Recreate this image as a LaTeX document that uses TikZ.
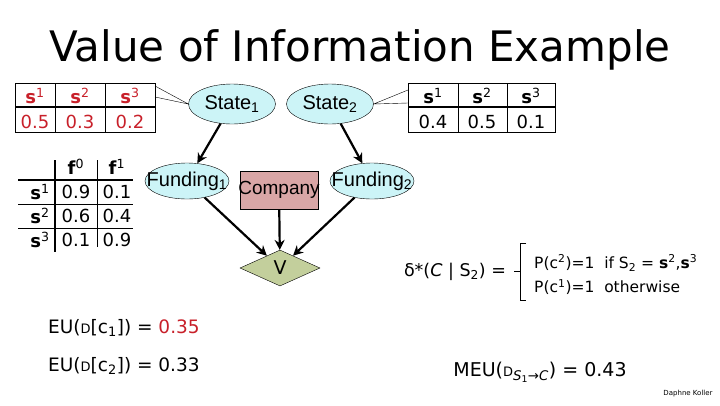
\documentclass[tikz,border=0pt]{standalone}
\usepackage{fontspec}
\setmainfont{DejaVu Sans}
\newfontfamily\nodefont{Liberation Sans}
\usetikzlibrary{shapes.geometric,arrows.meta}
\definecolor{cy}{HTML}{CCF4F7}
\definecolor{pk}{HTML}{D9A6A6}
\definecolor{gr}{HTML}{C3CF9C}
\definecolor{rd}{HTML}{C8202A}
\newcommand{\sub}[1]{\textsubscript{#1}}
\newcommand{\sups}[1]{\textsuperscript{#1}}
\newcommand{\smD}{{\fontsize{13}{15}\selectfont D}}
\newcommand{\zb}[1]{\makebox[0pt]{#1}}
\tikzset{
 ell/.style={ellipse,draw,fill=cy,minimum width=87pt,minimum height=40pt,inner sep=0pt,font=\nodefont\fontsize{20}{22}\selectfont},
 arr/.style={line width=2.2pt,-{Stealth[length=10pt,width=10pt]}},
 txt/.style={inner sep=0pt,font=\fontsize{18.5}{20}\selectfont},
 cell/.style={inner sep=0pt,font=\fontsize{18}{20}\selectfont}
}
\begin{document}
\begin{tikzpicture}[x=1pt,y=-1pt]
\useasboundingbox (0,0) rectangle (720,405);
\node[inner sep=0pt,font=\fontsize{42}{46}\selectfont] (title) at (360,50) {Value of Information Example};
% table 1
\draw (15,83) rectangle (155,132);
\draw[line width=2.5pt] (15,107) -- (155,107);
\draw (55,83)--(55,132) (105,83)--(105,132);
\foreach \x/\s in {35/1,80/2,130/3}{\node[cell,text=rd] at (\x,96) {\textbf{s}\sups{\s}};}
\foreach \x/\v in {35/0.5,80/0.3,130/0.2}{\node[cell,text=rd] at (\x,122) {\v};}
% table right
\draw (408,83) rectangle (555,132);
\draw[line width=2.5pt] (408,107) -- (555,107);
\draw (458,83)--(458,132) (507,83)--(507,132);
\foreach \x/\s in {433/1,482/2,531/3}{\node[cell] at (\x,96) {\textbf{s}\sups{\s}};}
\foreach \x/\v in {433/0.4,482/0.5,531/0.1}{\node[cell] at (\x,122) {\v};}
% nodes
\node[ell] (s1) at (232,104) {\zb{State\sub{1}}};
\node[ell] (s2) at (330,104) {\zb{State\sub{2}}};
\node[ell,minimum width=84pt,minimum height=36pt] (f1) at (187,181) {\zb{Funding\sub{1}}};
\node[ell,minimum width=84pt,minimum height=36pt] (f2) at (372,181) {\zb{Funding\sub{2}}};
\node[draw,fill=pk,minimum width=78pt,minimum height=38pt,inner sep=0pt,font=\nodefont\fontsize{19}{21}\selectfont] (c) at (279,190) {\zb{Company}};
\node[diamond,draw,fill=gr,aspect=2.2,minimum width=80pt,minimum height=36pt,inner sep=0pt,font=\fontsize{19}{21}\selectfont] (v) at (280,268) {V};
% callouts
\draw (155,86) -- (s1.west) -- (155,97);
\draw (408,90) -- (s2.east) -- (408,103);
\draw[arr] (s1) -- (f1);
\draw[arr] (s2) -- (f2);
\draw[arr] (f1) -- (v);
\draw[arr] (c) -- (v);
\draw[arr] (f2) -- (v);
% table 2
\draw[line width=2.5pt] (55,160) -- (55,252);
\draw[line width=2.5pt] (18,180) -- (133,180);
\draw (18,204)--(133,204) (18,228)--(133,228) (97,160)--(97,247);
\node[cell] at (76,167) {\textbf{f}\sups{0}};
\node[cell] at (117,167) {\textbf{f}\sups{1}};
\foreach \y/\s/\a/\b in {192/1/0.9/0.1,216/2/0.6/0.4,240/3/0.1/0.9}{
 \node[cell] at (40,\y) {\textbf{s}\sups{\s}};
 \node[cell] at (76,\y) {\a};
 \node[cell] at (117,\y) {\b};}
% delta
\node[txt,font=\fontsize{17.5}{19}\selectfont] (d) at (455,272) {δ*(\textit{C} | S\sub{2}) =};
\draw (526,243) -- (520,243) -- (520,300) -- (526,300) (520,271) -- (514,271);
\node[txt,font=\fontsize{15.5}{17}\selectfont,anchor=west] (p1) at (534,263) {P(c\sups{2})=1\ \ if S\sub{2} = \textbf{s}\sups{2},\textbf{s}\sups{3}};
\node[txt,font=\fontsize{15.5}{17}\selectfont,anchor=west] (p2) at (534,287) {P(c\sups{1})=1\ \ otherwise};
% EU
\node[txt,anchor=west] (eu1) at (48,328) {EU(\smD[c\sub{1}]) = \textcolor{rd}{0.35}};
\node[txt,anchor=west] (eu2) at (48,366) {EU(\smD[c\sub{2}]) = 0.33};
\node[txt,font=\fontsize{19}{21}\selectfont] (meu) at (540,372) {MEU(\smD\sub{\textit{S}\sub{1}→\textit{C}}) = 0.43};
\node[inner sep=0pt,font=\fontsize{7}{8}\selectfont] (dk) at (688,394) {Daphne Koller};
\end{tikzpicture}
\end{document}
